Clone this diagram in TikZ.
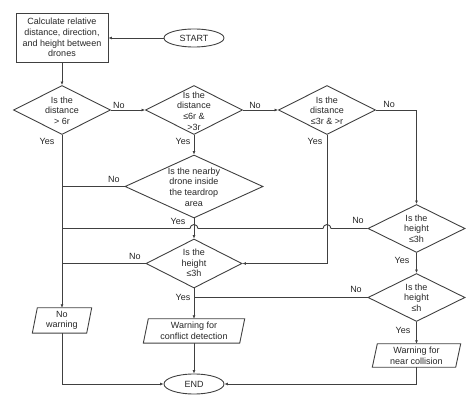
\documentclass[tikz,border=0pt]{standalone}
\usepackage{fontspec}
\setmainfont{Liberation Sans}
\usetikzlibrary{shapes.geometric,arrows.meta}
\definecolor{ln}{HTML}{404040}
\definecolor{txt}{HTML}{262626}
\begin{document}
\begin{tikzpicture}[x=1pt,y=-1pt,
  every node/.style={font=\fontsize{9}{10.6}\selectfont, text=txt},
  conn/.style={draw=ln, line width=0.9pt},
  arr/.style={conn, -{Latex[length=3.5pt,width=3pt]}},
  dia/.style={conn, shape=diamond, inner sep=0pt, minimum width=97pt, minimum height=49pt},
  parabox/.style={rectangle, inner sep=0pt, align=center},
  oval/.style={conn, shape=ellipse, inner sep=0pt, minimum width=60pt},
  lbl/.style={align=center, inner sep=0pt}
]
\useasboundingbox (0,0) rectangle (474,403);
\newcommand{\paradraw}[1]{\draw[conn] ([xshift=2.5pt]#1.north west) -- ([xshift=2.5pt]#1.north east) -- ([xshift=-2.5pt]#1.south east) -- ([xshift=-2.5pt]#1.south west) -- cycle;}

% boxes
\node[conn, rectangle, minimum width=92pt, minimum height=49pt, inner sep=0pt] (calc) at (62,37.5) {};
\node[lbl] (calct) at (62,37.5) {Calculate relative\\distance, direction,\\and height between\\drones};
\node[oval, minimum height=18pt] (start) at (194,38) {};
\node[lbl] (startt) at (194,38) {START};

\node[dia] (d1) at (62,110) {};
\node[lbl] (d1t) at (62,110.5) {Is the\\distance\\> 6r};
\node[dia] (d2) at (194,110) {};
\node[lbl] (d2t) at (194,111) {Is the\\distance\\≤6r \&\\>3r};
\node[dia] (d3) at (327,110) {};
\node[lbl] (d3t) at (327,110.5) {Is the\\distance\\≤3r \& >r};
\node[dia, minimum width=138pt, minimum height=63pt] (dT) at (194,186.5) {};
\node[lbl] (dTt) at (194,187) {Is the nearby\\drone inside\\the teardrop\\area};
\node[dia, minimum width=96pt] (d5) at (194,263.5) {};
\node[lbl] (d5t) at (194,263) {Is the\\height\\≤3h};
\node[dia, minimum width=97pt, minimum height=48pt] (d6) at (416.5,228.5) {};
\node[lbl] (d6t) at (416.5,228.5) {Is the\\height\\≤3h};
\node[dia, minimum width=97pt, minimum height=48pt] (d7) at (416.5,297.5) {};
\node[lbl] (d7t) at (416.5,297.5) {Is the\\height\\≤h};

\node[parabox, minimum width=54pt, minimum height=25pt] (nw) at (62,320.5) {No\\warning};
\paradraw{nw}
\node[parabox, minimum width=96pt, minimum height=24pt] (conf) at (194,331) {Warning for\\conflict detection};
\paradraw{conf}
\node[parabox, minimum width=83pt, minimum height=23pt] (nc) at (416.5,355.5) {Warning for\\near collision};
\paradraw{nc}
\node[oval, minimum height=20pt] (end) at (194,384) {};
\node[lbl] (endt) at (194,384) {END};

% labels
\node[lbl] (l1n) at (119,105) {No};
\node[lbl] (l1y) at (47,141) {Yes};
\node[lbl] (l2n) at (255,105) {No};
\node[lbl] (l2y) at (183,141) {Yes};
\node[lbl] (l3n) at (389,104) {No};
\node[lbl] (l3y) at (315,141) {Yes};
\node[lbl] (lTn) at (114,179) {No};
\node[lbl] (lTy) at (178,221) {Yes};
\node[lbl] (l5n) at (135,256) {No};
\node[lbl] (l5y) at (183,297) {Yes};
\node[lbl] (l6n) at (358,220) {No};
\node[lbl] (l6y) at (402,260) {Yes};
\node[lbl] (l7n) at (356,289) {No};
\node[lbl] (l7y) at (403,330) {Yes};

% connectors
\draw[arr] (start.west) -- (start.west -| calc.east);
\draw[arr] (calc.south) -- (d1.north);
\draw[arr] (d1.east) -- (d2.west);
\draw[arr] (d2.east) -- (d3.west);
\draw[arr] (d2.south) -- (dT.north);
\draw[arr] (d3.east) -| (d6.north);
\draw[arr] (d1.south) -- (nw.north);
\draw[conn] (dT.west) -- (dT.west -| d1.south);
\draw[arr] (dT.south) -- (d5.north);
\draw[conn] (d6.west) -- ([xshift=4pt]d3.south |- d6.west)
  arc[start angle=0, end angle=-180, radius=4]
  -- ([xshift=4pt]dT.south |- d6.west)
  arc[start angle=0, end angle=-180, radius=4]
  -- (d6.west -| d1.south);
\draw[arr] (d3.south) |- (d5.east);
\draw[conn] (d5.west) -- (d5.west -| d1.south);
\draw[arr] (d5.south) -- (conf.north);
\draw[conn] (d7.west) -- (d7.west -| d5.south);
\draw[arr] (d6.south) -- (d7.north);
\draw[arr] (d7.south) -- (nc.north);
\draw[arr] (conf.south) -- (end.north);
\draw[arr] (nw.south) |- (end.west);
\draw[arr] (nc.south) |- (end.east);
\end{tikzpicture}
\end{document}
